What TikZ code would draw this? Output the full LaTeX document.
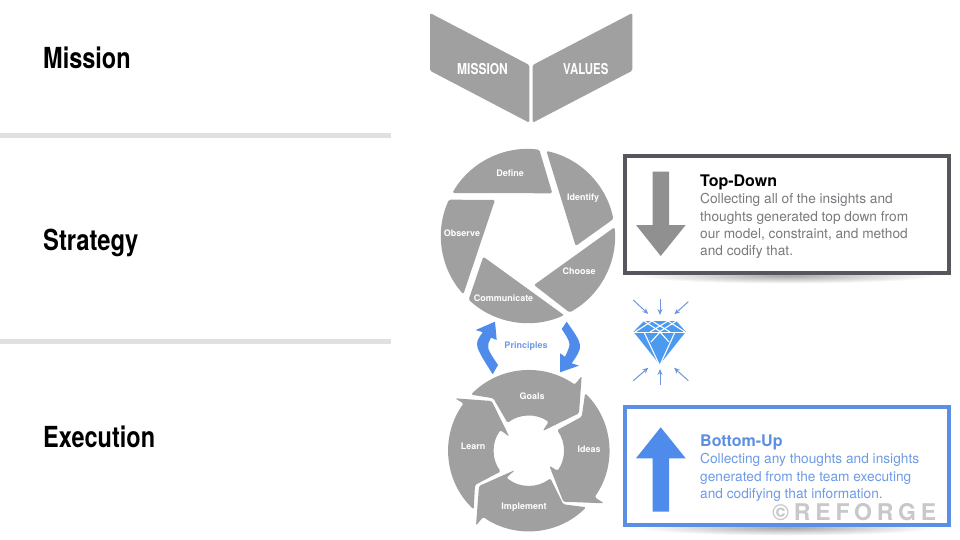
\documentclass[tikz,border=0pt]{standalone}
\usepackage{fontspec}
\setmainfont{TeX Gyre Heros}
\usetikzlibrary{arrows.meta,calc}
\definecolor{shapegray}{HTML}{A0A0A0}
\definecolor{rulegray}{HTML}{E0E0E0}
\definecolor{arrowblue}{HTML}{4F8BEA}
\definecolor{boxblue}{HTML}{5B8FE3}
\definecolor{textblue}{HTML}{6E9BE6}
\definecolor{gemblue}{HTML}{4C9AF0}
\definecolor{pointerblue}{HTML}{6F97DC}
\definecolor{boxdark}{HTML}{56565C}
\definecolor{bodygray}{HTML}{7A7A7E}
\definecolor{downgray}{HTML}{909090}
\definecolor{markgray}{HTML}{C8C8C8}
\newcommand{\fs}[1]{\fontsize{#1}{#1}\selectfont}
\tikzset{
  section/.style={anchor=base west,inner sep=0pt,font=\bfseries\fs{29}},
  rulebar/.style={rulegray,line width=5pt},
  shapefill/.style={fill=shapegray,rounded corners=1.5pt},
  wheel/.style={white,font=\bfseries\fs{9},inner sep=0pt},
  chev/.style={white,font=\bfseries\fs{15},inner sep=0pt},
  titletext/.style={anchor=base west,inner sep=0pt,font=\bfseries\fs{16}},
  bodytext/.style={anchor=base west,inner sep=0pt,align=left,font=\fontsize{13.7}{17.3}\selectfont},
  pointer/.style={pointerblue,line width=1pt,-{Stealth[length=6pt,width=5pt]}},
  facet/.style={white,line width=1.1pt},
  boxshadow/.style={inner color=black!35,outer color=white},
}
\begin{document}
\begin{tikzpicture}[x=1pt,y=1pt,yscale=-1]
\useasboundingbox (0,0) rectangle (960,540);
% left column
\node[section] (mission) at (43,68.7) {\scalebox{0.81}[1]{Mission}};
\node[section] (strategy) at (43,250) {\scalebox{0.82}[1]{Strategy}};
\node[section] (execution) at (43,447.3) {\scalebox{0.81}[1]{Execution}};
\draw[rulebar] (0,135.5) -- (391,135.5);
\draw[rulebar] (0,341) -- (391,341);
% chevrons
\fill[shapefill] (430,13) -- (529.3,65) -- (529.3,122.7) -- (430,70.7) -- cycle;
\fill[shapefill] (532.7,65) -- (632.3,13) -- (632.3,70.7) -- (532.7,122.7) -- cycle;
\node[chev] (lm) at (482.5,69.5) {\scalebox{0.8}[1]{MISSION}};
\node[chev] (lv) at (585.8,69.5) {\scalebox{0.76}[1]{VALUES}};
% aperture
\coordinate (ac) at (528,236);
\fill[shapefill] ($(ac)+(209.6:87pt)$) arc[start angle=209.6,end angle=277.5,radius=87pt] -- (552.3,193.3) -- cycle;
\fill[shapefill] ($(ac)+(282.2:87pt)$) arc[start angle=282.2,end angle=348.8,radius=87pt] -- (575.7,246) -- cycle;
\fill[shapefill] ($(ac)+(354.2:87pt)$) arc[start angle=354.2,end angle=421.5,radius=87pt] -- (534,285) -- cycle;
\fill[shapefill] ($(ac)+(65.5:87pt)$) arc[start angle=65.5,end angle=133,radius=87pt] -- (483.3,256.7) -- cycle;
\fill[shapefill] ($(ac)+(138:87pt)$) arc[start angle=138,end angle=204.7,radius=87pt] -- (495,200) -- cycle;
\node[wheel] (define) at (510,173) {Define};
\node[wheel] (identify) at (583,198) {Identify};
\node[wheel] (choose) at (579,271) {Choose};
\node[wheel] (communicate) at (503.5,298) {Communicate};
\node[wheel] (observe) at (462,233.5) {Observe};
% curved arrows
\fill[arrowblue] (482.7,332.3) -- (475.7,330) -- (495,321.7) -- (496.7,340) -- (491,337.7)
  .. controls (486.2,347.3) .. (498,365) -- (492.7,374.3) .. controls (473.9,344.5) .. (482.7,332.3) -- cycle;
\fill[arrowblue] (566.7,321.7) .. controls (583.6,345.9) .. (571.7,363.3) -- (579,365.7) -- (560,372.3)
  -- (560,353.3) -- (565,356.7) .. controls (571.3,343.5) .. (561.7,329) -- cycle;
\node[font=\bfseries\fs{9},text=textblue,inner sep=0pt] (principles) at (526,346) {Principles};
% execution wheel
\coordinate (ec) at (528.8,450.7);
\fill[shapefill] ($(ec)+(224.1:80.5pt)$) arc[start angle=224.1,end angle=304.8,radius=80.5pt]
  -- (581.7,376) -- (579,413.3) -- (542.7,431) -- ($(ec)+(304.4:35pt)$)
  arc[start angle=304.4,end angle=232.6,radius=35pt] -- (493.3,398.3) -- cycle;
\fill[shapefill] ($(ec)+(314.4:80.5pt)$) arc[start angle=314.4,end angle=395.2,radius=80.5pt]
  -- (604,503.3) -- (563.3,501.7) -- (549.3,465.7) -- ($(ec)+(35:35pt)$)
  arc[start angle=35,end angle=-36,radius=35pt] -- (581.7,416.7) -- cycle;
\fill[shapefill] ($(ec)+(44.6:80.5pt)$) arc[start angle=44.6,end angle=124.6,radius=80.5pt]
  -- (476,525.7) -- (479,486) -- (515,470) -- ($(ec)+(129.4:35pt)$)
  arc[start angle=129.4,end angle=52,radius=35pt] -- (563.3,504.3) -- cycle;
\fill[shapefill] ($(ec)+(133.2:80.5pt)$) arc[start angle=133.2,end angle=215.9,radius=80.5pt]
  -- (455,398.3) -- (491.7,401) -- (509.3,436.7) -- ($(ec)+(216:35pt)$)
  arc[start angle=216,end angle=143.5,radius=35pt] -- (475,485) -- cycle;
\node[wheel] (goals) at (532,396) {Goals};
\node[wheel] (ideas) at (589,449) {Ideas};
\node[wheel] (implement) at (524,507) {Implement};
\node[wheel] (learn) at (473,446) {Learn};
% gem
\fill[gemblue] (644,321) -- (676.3,321) -- (686.3,332.3) -- (659.7,365.7) -- (633,332.3) -- cycle;
\draw[facet] (633,332.3) -- (686.3,332.3);
\draw[facet] (644,321) -- (660,331.5) -- (676.3,321);
\draw[facet] (652,321) -- (670,332) (668,321) -- (650,332);
\draw[facet] (652,321) -- (635,332) (668,321) -- (685,332);
\draw[facet] (633,332.3) -- (659.7,365.7) -- (686.3,332.3);
\draw[facet] (644,332) -- (659.7,365.7) -- (675,332);
\draw[facet] (660,332) -- (651,342) (660,332) -- (669,342);
\coordinate (p1s) at (633.3,300); \coordinate (p1e) at (648.3,314);
\coordinate (p2s) at (660,299); \coordinate (p2e) at (660,315);
\coordinate (p3s) at (688.3,301.7); \coordinate (p3e) at (674.3,314.3);
\coordinate (p4s) at (633.3,380.7); \coordinate (p4e) at (648.3,367.7);
\coordinate (p5s) at (660,385); \coordinate (p5e) at (660,369);
\coordinate (p6s) at (688.3,380.7); \coordinate (p6e) at (674,367.7);
\draw[pointer] (p1s) -- (p1e);
\draw[pointer] (p2s) -- (p2e);
\draw[pointer] (p3s) -- (p3e);
\draw[pointer] (p4s) -- (p4e);
\draw[pointer] (p5s) -- (p5e);
\draw[pointer] (p6s) -- (p6e);
% top-down box
\shade[boxshadow] (787,275.5) ellipse[x radius=150pt,y radius=8pt];
\draw[boxdark,line width=4pt,fill=white] (625.3,156) rectangle (948.7,273);
\fill[downgray] (652.7,171.7) -- (669,171.7) -- (669,225) -- (685.7,225) -- (660.7,256) -- (636,225) -- (652.7,225) -- cycle;
\node[titletext] (tdtitle) at (700,186.7) {Top-Down};
\node[bodytext,text=bodygray] (tdbody) at (700,255.7) {Collecting all of the insights and\\thoughts generated top down from\\our model, constraint, and method\\and codify that.};
% bottom-up box
\shade[boxshadow] (787,527.5) ellipse[x radius=150pt,y radius=8pt];
\draw[boxblue,line width=4pt,fill=white] (625.3,407) rectangle (948.7,524.7);
\fill[arrowblue] (652.7,511.7) -- (669,511.7) -- (669,458.3) -- (685.7,458.3) -- (660.7,427.3) -- (636,458.3) -- (652.7,458.3) -- cycle;
\node[titletext,text=boxblue] (butitle) at (700,446.7) {Bottom-Up};
\node[bodytext,text=textblue] (bubody) at (700,498.3) {Collecting any thoughts and insights\\generated from the team executing\\and codifying that information.};
\node[anchor=base west,inner sep=0pt,text=markgray,font=\bfseries\fs{23}] (mark) at (772,520) {\addfontfeature{LetterSpace=21}©REFORGE};
\end{tikzpicture}
\end{document}
